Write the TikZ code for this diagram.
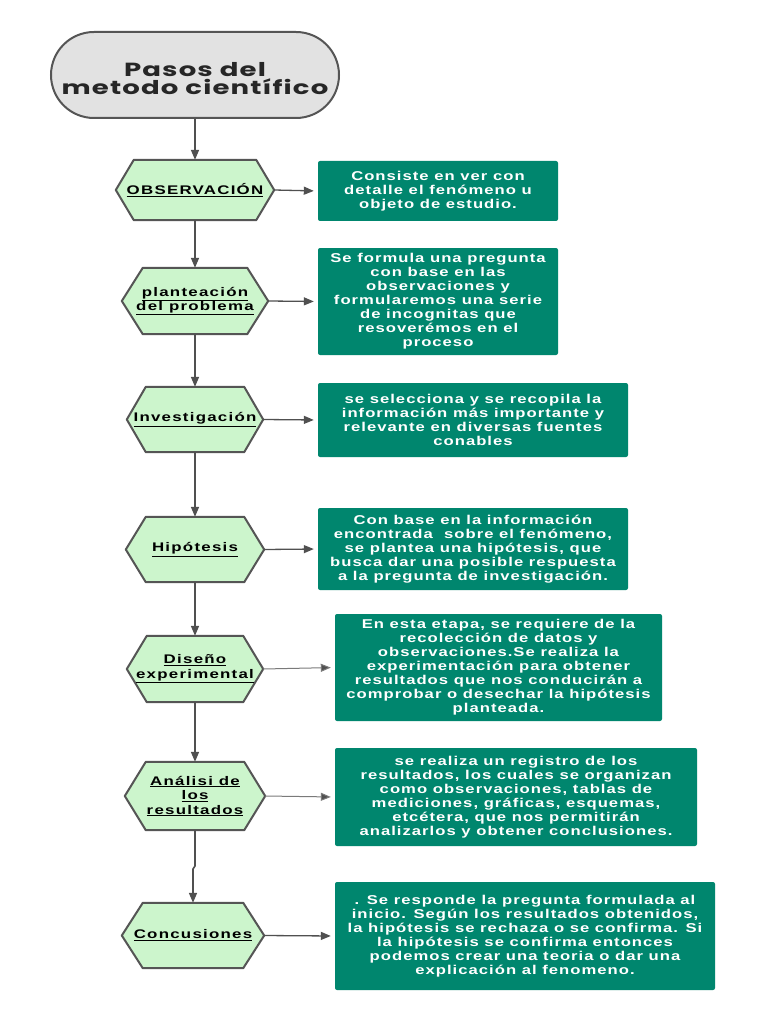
\documentclass[tikz,border=0pt]{standalone}
\usepackage{fontspec}
\setmainfont{Liberation Sans}
\newfontfamily\titlefont{Poppins}[FakeStretch=1.45,LetterSpace=6]
\newfontfamily\sfx{Liberation Sans}[FakeStretch=1.3,LetterSpace=8]
\newfontfamily\hexfont{Liberation Sans}[FakeStretch=1.35,LetterSpace=10]
\usetikzlibrary{shapes.misc,arrows.meta}
\pgfdeclarelayer{bg}
\pgfsetlayers{bg,main}
\definecolor{hexfill}{HTML}{CCF5CC}
\definecolor{hexline}{HTML}{555555}
\definecolor{teal}{HTML}{00866E}
\definecolor{titlefill}{HTML}{E2E2E2}
\definecolor{conncol}{HTML}{505050}
\definecolor{conncol2}{HTML}{7A7A7A}
\begin{document}
\begin{tikzpicture}[x=1pt,y=-1pt,
  hexa/.style={shape=rectangle, inner sep=0pt, align=center,
    font=\hexfont\bfseries\fontsize{12.5}{14.5}\selectfont, text=black},
  hexshape/.style={draw=hexline, line width=2pt, fill=hexfill, line join=round},
  infobox/.style={shape=rectangle, rounded corners=2pt, fill=teal, draw=none,
    inner sep=0pt, align=center, text=white,
    font=\sfx\bfseries\fontsize{12.8}{14}\selectfont},
  conn/.style={draw=conncol, line width=1.6pt, -{Triangle[length=10pt,width=8pt]}},
  conn2/.style={draw=conncol2, line width=1pt, -{Triangle[length=10pt,width=8pt,fill=conncol]}, shorten >=4pt},
  connh/.style={draw=conncol, line width=1.3pt, -{Triangle[length=10pt,width=8pt]}, shorten >=4pt}
]
\begin{pgfonlayer}{bg}
\fill[white] (0,0) rectangle (768,1024);
\end{pgfonlayer}
\useasboundingbox (0,0) rectangle (768,1024);

\node[shape=rounded rectangle, draw=hexline, line width=2pt, fill=titlefill,
  minimum width=288pt, minimum height=86pt, inner sep=0pt, align=center,
  font=\titlefont\bfseries\fontsize{19}{17.5}\selectfont, text=black!85] (title) at (195,75)
  {\rule{0pt}{21pt}Pasos del\\metodo científico};

\node[hexa, minimum width=158pt, minimum height=60pt] (obs) at (195,190) {\underline{OBSERVACIÓN}};
\node[hexa, minimum width=146pt, minimum height=66pt] (plan) at (195,301) {\underline{planteación}\\\underline{del problema}};
\node[hexa, minimum width=136pt, minimum height=65pt] (inv) at (195,419.5) {\underline{Investigación}};
\node[hexa, minimum width=138pt, minimum height=65pt] (hip) at (195,549.5) {\underline{Hipótesis}};
\node[hexa, minimum width=136pt, minimum height=66pt] (dis) at (195,669) {\underline{Diseño}\\\underline{experimental}};
\node[hexa, minimum width=140pt, minimum height=68pt] (ana) at (195,796) {\underline{Análisi de}\\\underline{los}\\\underline{resultados}};
\node[hexa, minimum width=142pt, minimum height=65pt] (con) at (193,935.5) {\underline{Concusiones}};

\begin{pgfonlayer}{bg}
\foreach \n/\i in {obs/18,plan/21,inv/19,hip/20,dis/20,ana/21,con/21}
  \path[hexshape] (\n.west) -- ([xshift=\i pt]\n.north west) -- ([xshift=-\i pt]\n.north east)
    -- (\n.east) -- ([xshift=-\i pt]\n.south east) -- ([xshift=\i pt]\n.south west) -- cycle;
\end{pgfonlayer}

\node[infobox, minimum width=240pt, minimum height=60pt] (b1) at (438,191)
  {Consiste en ver con\\detalle el fenómeno u\\objeto de estudio.};
\node[infobox, minimum width=240pt, minimum height=107pt] (b2) at (438,301.5)
  {Se formula una pregunta\\con base en las\\observaciones y\\formularemos una serie\\de incognitas que\\resoverémos en el\\proceso};
\node[infobox, minimum width=310pt, minimum height=74pt] (b3) at (473,420)
  {se selecciona y se recopila la\\información más importante y\\relevante en diversas fuentes\\conables};
\node[infobox, minimum width=310pt, minimum height=82pt] (b4) at (473,549)
  {Con base en la información\\encontrada\ \ sobre el fenómeno,\\se plantea una hipótesis, que\\busca dar una posible respuesta\\a la pregunta de investigación.};
\node[infobox, minimum width=327pt, minimum height=107pt] (b5) at (498.5,667.5)
  {En esta etapa, se requiere de la\\recolección de datos y\\observaciones.Se realiza la\\experimentación para obtener\\resultados que nos conducirán a\\comprobar o desechar la hipótesis\\planteada.};
\node[infobox, minimum width=362pt, minimum height=98pt] (b6) at (516,797)
  {se realiza un registro de los\\resultados, los cuales se organizan\\como observaciones, tablas de\\mediciones, gráficas, esquemas,\\etcétera, que nos permitirán\\analizarlos y obtener conclusiones.};
\node[infobox, minimum width=380pt, minimum height=108pt] (b7) at (525,936)
  {. Se responde la pregunta formulada al\\inicio. Según los resultados obtenidos,\\la hipótesis se rechaza o se confirma. Si\\la hipótesis se confirma entonces\\podemos crear una teoria o dar una\\explicación al fenomeno.};

% vertical connectors
\draw[conn] (title.south) -- (obs.north);
\draw[conn] (obs.south) -- (plan.north);
\draw[conn] (plan.south) -- (inv.north);
\draw[conn] (inv.south) -- (hip.north);
\draw[conn] (hip.south) -- (dis.north);
\draw[conn] (dis.south) -- (ana.north);
\coordinate (j1) at (195,866);
\coordinate (j2) at (193,869);
\draw[conn] (ana.south) -- (j1) -- (j2) -- (con.north);

% horizontal connectors
\draw[connh] (obs.east) -- (b1.west);
\draw[connh] (plan.east) -- (b2.west);
\draw[connh] (inv.east) -- (b3.west);
\draw[connh] (hip.east) -- (b4.west);
\draw[conn2] (dis.east) -- (b5.west);
\draw[conn2] (ana.east) -- (b6.west);
\draw[connh] (con.east) -- (b7.west);
\end{tikzpicture}
\end{document}
